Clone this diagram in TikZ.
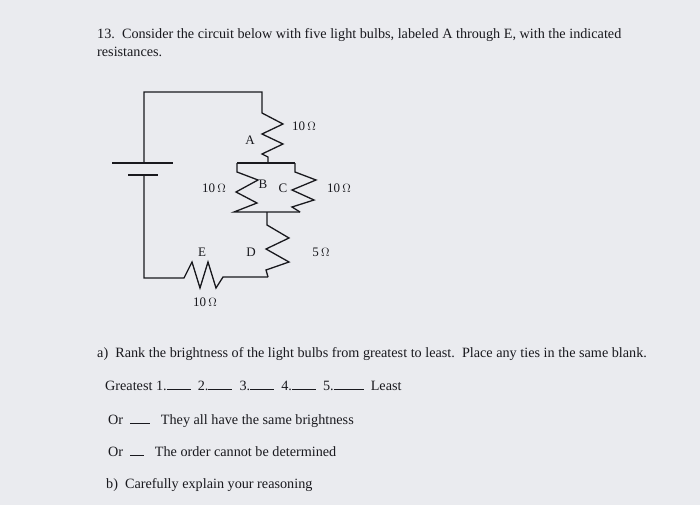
\documentclass[tikz,border=0pt]{standalone}
\usepackage{fontspec}
\setmainfont{Liberation Serif}
\definecolor{bg}{RGB}{234,235,239}
\definecolor{ink}{RGB}{25,25,30}
\begin{document}
\begin{tikzpicture}[x=1pt,y=-1pt,
  wire/.style={draw=ink,line width=1.3pt,line join=miter},
  lbl/.style={text=ink,font=\fontsize{13}{15}\selectfont,inner sep=0pt},
  txt/.style={text=ink,font=\fontsize{14.2}{16}\selectfont,inner sep=0pt,anchor=base west}]
\fill[bg] (0,0) rectangle (700,505);
\useasboundingbox (0,0) rectangle (700,505);
% text
\node[txt] (t1) at (97,39) {13.\ \ Consider the circuit below with five light bulbs, labeled A through E, with the indicated};
\node[txt] (t2) at (97,57) {resistances.};
\node[txt] (qa) at (97,357) {a)\ \ Rank the brightness of the light bulbs from greatest to least.\ \ Place any ties in the same blank.};
\node[txt] (g) at (105,390) {Greatest 1.\rule{24pt}{0.6pt}\ \ 2.\rule{24pt}{0.6pt}\ \ 3.\rule{24pt}{0.6pt}\ \ 4.\rule{24pt}{0.6pt}\ \ 5.\rule{30pt}{0.6pt}\ \ Least};
\node[txt] (o1) at (108,424) {Or\ \ \rule{20pt}{0.6pt}\ \ \ They all have the same brightness};
\node[txt] (o2) at (108,456) {Or\ \ \rule{14pt}{0.6pt}\ \ \ The order cannot be determined};
\node[txt] (qb) at (106,488) {b)\ \ Carefully explain your reasoning};
% circuit
\coordinate (bt) at (144,163);
\coordinate (bb) at (144,175);
\draw[wire] (bt) -- (144,92) -- (262,92) -- (262,113)
  -- (283,124) -- (262,134) -- (283,144) -- (262,154) -- (268,157) -- (268,163);
\draw[wire] (237,163) -- (295,163);
\draw[wire] (237,163) -- (237,172) -- (258,180) -- (236,192) -- (257,203) -- (234,212) -- (300,212);
\draw[wire] (295,163) -- (295,172) -- (316,180) -- (292,190) -- (314,200) -- (292,207) -- (300,212);
\draw[wire] (267,212) -- (267,225) -- (289,238) -- (266,249) -- (289,262) -- (266,270) -- (268,277);
\draw[wire] (268,277) -- (223,277) -- (216,288) -- (208,262) -- (200,288) -- (192,262) -- (184,278) -- (144,278) -- (bb);
\draw[wire] (112,163) -- (173,163);
\draw[wire] (128,175) -- (158,175);
\node[lbl] (rA) at (304,126) {10\,$\Omega$};
\node[lbl] (lA) at (250,140) {A};
\node[lbl] (rB) at (214,188) {10\,$\Omega$};
\node[lbl] (lB) at (263,184) {B};
\node[lbl] (lC) at (283,188) {C};
\node[lbl] (rC) at (339,188) {10\,$\Omega$};
\node[lbl] (lE) at (202,252) {E};
\node[lbl] (lD) at (251,252) {D};
\node[lbl] (rD) at (321,252) {5\,$\Omega$};
\node[lbl] (rE) at (205,302) {10\,$\Omega$};
\end{tikzpicture}
\end{document}
